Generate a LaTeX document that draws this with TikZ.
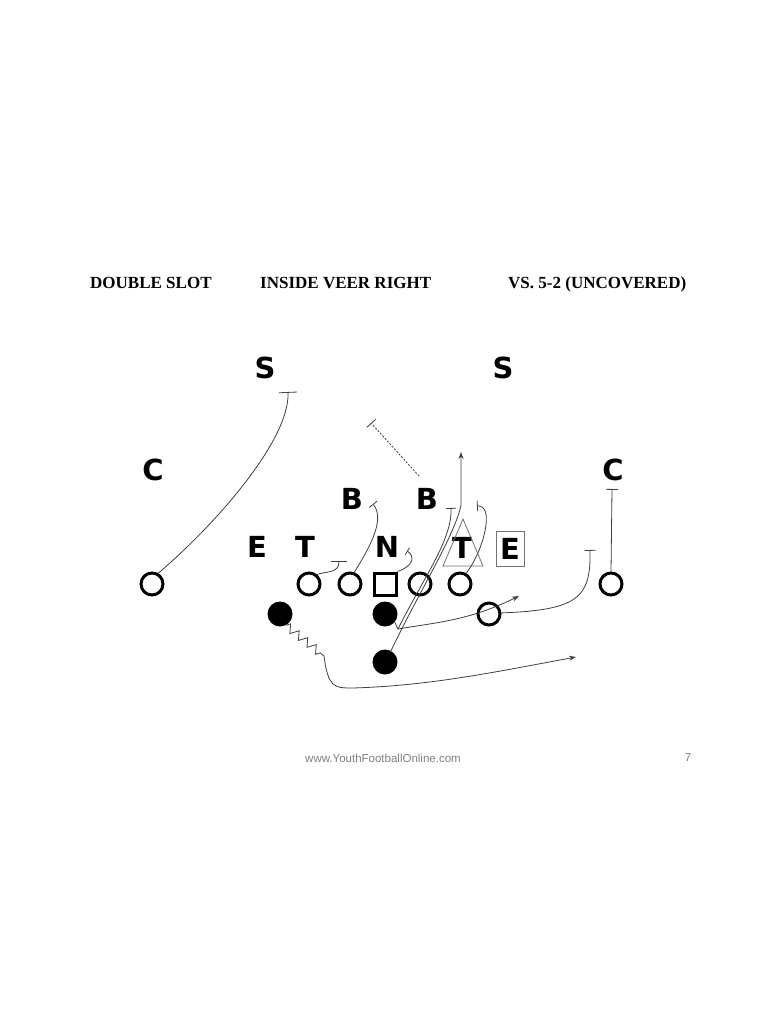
\documentclass[tikz,border=0pt]{standalone}
\usepackage{fontspec}
\setmainfont{Liberation Serif}
\newfontfamily\letfont{DejaVu Sans}
\newfontfamily\footfont{Liberation Sans}
\usetikzlibrary{arrows.meta,decorations.pathmorphing}
\begin{document}
\begin{tikzpicture}[x=1pt,y=-1pt,
  off/.style={circle,draw=black,line width=3pt,minimum size=22pt,inner sep=0pt},
  offfill/.style={circle,fill=black,minimum size=25pt,inner sep=0pt},
  ctr/.style={rectangle,draw=black,line width=3pt,minimum size=22pt,inner sep=0pt},
  def/.style={font=\letfont\bfseries\fontsize{29}{29}\selectfont,inner sep=0pt},
  ttl/.style={font=\bfseries\fontsize{17}{17}\selectfont,inner sep=0pt,anchor=base west},
  foot/.style={font=\footfont\fontsize{11.5}{11.5}\selectfont,text=black!50,inner sep=0pt},
  route/.style={draw=black!75,line width=0.8pt},
  blk/.style={route,-{Bar[width=#1,line width=0.8pt]}},
  arr/.style={route,-{Stealth[length=7pt,width=5pt]}},
  frame/.style={draw=black!55,line width=0.8pt},
]
\useasboundingbox (0,0) rectangle (768,1024);
\fill[white] (0,0) rectangle (768,1024);

% titles
\node[ttl] (t1) at (90,288) {DOUBLE SLOT};
\node[ttl] (t2) at (260,288) {INSIDE VEER RIGHT};
\node[ttl] (t3) at (508,288) {VS. 5-2 (UNCOVERED)};

% offense
\node[off] (lwr) at (152,584) {};
\node[off] (ltk) at (309,584) {};
\node[off] (lgd) at (350,584) {};
\node[ctr] (cen) at (385,584) {};
\node[off] (rgd) at (420,584) {};
\node[off] (rtk) at (460,584) {};
\node[off] (slot) at (489,614) {};
\node[off] (rwr) at (611,584) {};
\node[offfill] (ls) at (280,614) {};
\node[offfill] (qb) at (385,614) {};
\node[offfill] (fb) at (385,662) {};

% defense
\node[def] (s1) at (265,368) {S};
\node[def] (s2) at (503,368) {S};
\node[def] (c1) at (153,470) {C};
\node[def] (c2) at (613,470) {C};
\node[def] (b1) at (352,499) {B};
\node[def] (b2) at (427,499) {B};
\node[def] (e1) at (257,547) {E};
\node[def] (d1) at (305,547) {T};
\node[def] (nt) at (387,547) {N};
\node[def] (d2) at (462,548) {T};
\node[def,frame,minimum width=28pt,minimum height=35pt] (e2) at (510,548.5) {E};
\draw[frame] (463,519) -- (483,566) -- (443,566) -- cycle;

% routes
\coordinate (sEnd) at (288,392);
\draw[blk=18pt] (lwr.60) .. controls (215,525) and (290,440) .. (sEnd);

\coordinate (dStart) at (419,476);
\coordinate (dEnd) at (371,423);
\draw[blk=12pt,dash pattern=on 2pt off 1.5pt] (dStart) -- (dEnd);

\coordinate (ltEnd) at (339,561);
\draw[blk=16pt] (ltk.50) .. controls (328,571) and (339,573) .. (ltEnd);

\coordinate (lgEnd) at (373,504);
\draw[blk=10pt] (lgd.70) .. controls (368,550) and (386,520) .. (lgEnd);

\coordinate (cEnd) at (407,551);
\draw[blk=8pt] (cen.north east) .. controls (414,566) and (415,556) .. (cEnd);

\coordinate (fbTurn) at (461,505);
\coordinate (fbEnd) at (461,452);
\draw[arr] (fb.62) .. controls (420,590) and (455,535) .. (fbTurn) -- (fbEnd);

\coordinate (v) at (398,629);
\draw[route] (qb.-40) -- (v);
\coordinate (vEnd) at (451,508);
\draw[blk=10pt] (v) .. controls (425,575) and (452,540) .. (vEnd);
\coordinate (qbEnd) at (519,596);
\draw[arr] (v) .. controls (440,622) and (470,620) .. (qbEnd);

\coordinate (rtEnd) at (477,506);
\draw[blk=10pt] (rtk.60) .. controls (484,550) and (495,505) .. (rtEnd);

\coordinate (slotEnd) at (590,550);
\draw[blk=11pt] (slot.5) .. controls (578,610) and (591,598) .. (slotEnd);

\coordinate (rwrEnd) at (612,489);
\draw[blk=12pt] (rwr.north) -- (rwrEnd);

\coordinate (zz) at (324,656);
\coordinate (lsEnd) at (576,657);
\draw[route,decorate,decoration={zigzag,segment length=11pt,amplitude=4pt}] (ls.-62) -- (zz);
\draw[arr] (zz) .. controls (328,688) and (335,688) .. (352,688) .. controls (430,686) and (500,671) .. (lsEnd);

% footer
\node[foot,anchor=west] (web) at (305,758) {www.YouthFootballOnline.com};
\node[foot] (pg) at (688,758) {7};
\end{tikzpicture}
\end{document}
